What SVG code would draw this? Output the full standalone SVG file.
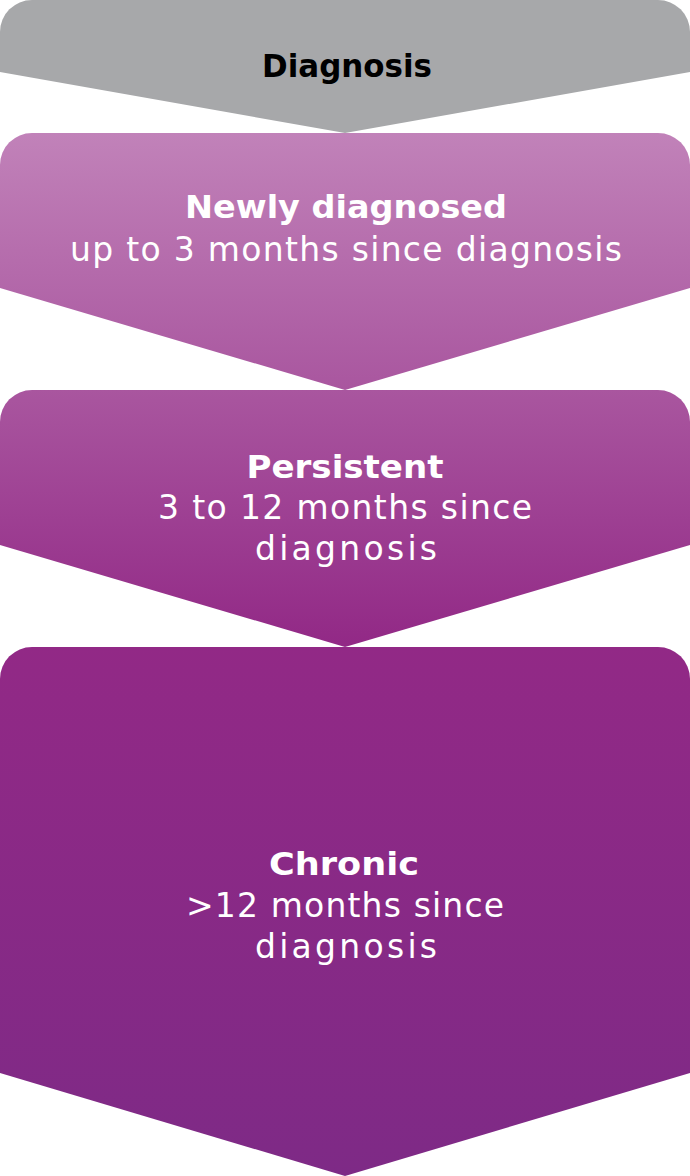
<svg xmlns="http://www.w3.org/2000/svg" width="690" height="1176" viewBox="0 0 690 1176">
  <defs>
    <linearGradient id="purple" gradientUnits="userSpaceOnUse" x1="0" y1="133" x2="0" y2="1176">
      <stop offset="0" stop-color="#c182b9"/>
      <stop offset="0.246" stop-color="#a9569f"/>
      <stop offset="0.49" stop-color="#922986"/>
      <stop offset="1" stop-color="#7e2a86"/>
    </linearGradient>
  </defs>
  <style>
    .b { font-family: "DejaVu Sans", "Liberation Sans", sans-serif; font-weight: 700; font-size: 32px; text-anchor: middle; }
    .r { font-family: "DejaVu Sans", "Liberation Sans", sans-serif; font-weight: 400; font-size: 33px; text-anchor: middle; }
    .w { fill: #ffffff; }
    .k { fill: #000000; }
    .shape { fill: url(#purple); }
  </style>

  <g id="node-diagnosis">
    <path d="M0,32 A32,32 0 0 1 32,0 H658 A32,32 0 0 1 690,32 V72 L345,133 L0,72 Z" fill="#a7a8aa"/>
    <text class="b k" x="347" y="77" textLength="170" lengthAdjust="spacingAndGlyphs">Diagnosis</text>
  </g>

  <g id="node-newly">
    <path class="shape" d="M0,165 A32,32 0 0 1 32,133 H658 A32,32 0 0 1 690,165 V288 L345,390 L0,288 Z"/>
    <text class="b w" x="346" y="218" textLength="322" lengthAdjust="spacingAndGlyphs">Newly diagnosed</text>
    <text class="r w" x="346" y="261" textLength="552" lengthAdjust="spacing">up to 3 months since diagnosis</text>
  </g>

  <g id="node-persistent">
    <path class="shape" d="M0,422 A32,32 0 0 1 32,390 H658 A32,32 0 0 1 690,422 V545 L345,647 L0,545 Z"/>
    <text class="b w" x="345" y="478" textLength="197" lengthAdjust="spacingAndGlyphs">Persistent</text>
    <text class="r w" x="345" y="519" textLength="374" lengthAdjust="spacing">3 to 12 months since</text>
    <text class="r w" x="346" y="560" textLength="182" lengthAdjust="spacing">diagnosis</text>
  </g>

  <g id="node-chronic">
    <path class="shape" d="M0,679 A32,32 0 0 1 32,647 H658 A32,32 0 0 1 690,679 V1073 L345,1176 L0,1073 Z"/>
    <text class="b w" x="344" y="875" textLength="150" lengthAdjust="spacingAndGlyphs">Chronic</text>
    <text class="r w" x="345" y="917" textLength="318" lengthAdjust="spacing">&gt;12 months since</text>
    <text class="r w" x="346" y="958" textLength="182" lengthAdjust="spacing">diagnosis</text>
  </g>
</svg>
